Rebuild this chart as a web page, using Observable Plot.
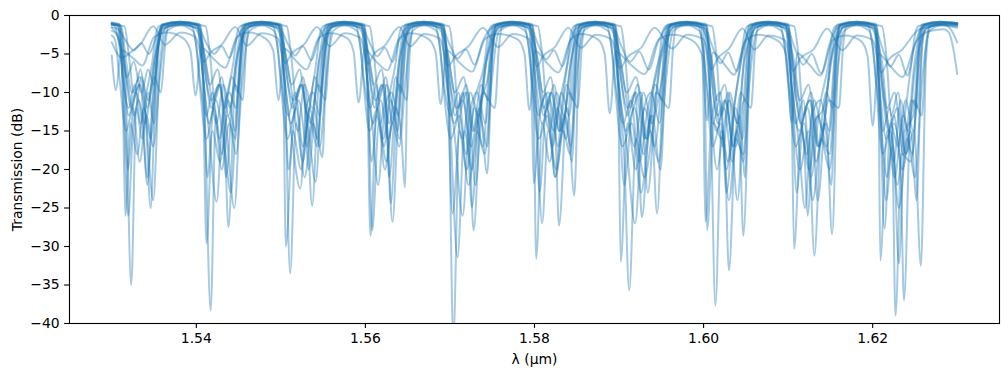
<!DOCTYPE html>
<html><head><meta charset="utf-8">
<script src="https://cdn.jsdelivr.net/npm/d3@7"></script>
<script src="https://cdn.jsdelivr.net/npm/@observablehq/plot@0.6"></script>
<style>body{margin:0;background:#fff}</style>
</head><body><div id="chart"></div>
<script>
// tick labels
const xTicks = [1.54, 1.56, 1.58, 1.60, 1.62];
const yTicks = [-40, -35, -30, -25, -20, -15, -10, -5, 0];

// each series: flat list of [wavelength (nm), transmission (dB)] pairs
const s01 = [1530.0,-1.0, 1530.9,-1.2,
1531.6,-8, 1532.3,-35, 1532.9,-12, 1533.6,-16, 1534.3,-10, 1535.0,-14, 1535.6,-4, 1536.0,-1.3,
1538.1,-0.9, 1540.3,-1.3,
1540.9,-9, 1541.7,-38.3, 1542.3,-13, 1543.0,-18, 1543.8,-11, 1544.6,-15, 1545.2,-4, 1545.6,-1.3,
1547.7,-0.9, 1549.9,-1.3,
1550.5,-10, 1551.1,-33.5, 1551.8,-14, 1552.6,-19, 1553.4,-12, 1554.3,-16, 1555.0,-4, 1555.4,-1.3,
1557.5,-0.9, 1559.7,-1.3,
1560.2,-9, 1560.6,-28.6, 1561.3,-13, 1562.2,-17, 1563.0,-11, 1563.8,-15, 1564.4,-4, 1564.8,-1.3,
1566.9,-0.9, 1569.1,-1.3,
1569.8,-9, 1570.4,-42, 1571.1,-15, 1572.0,-20, 1572.9,-12, 1573.9,-17, 1574.8,-4, 1575.2,-1.3,
1577.4,-0.9, 1579.6,-1.3,
1579.9,-10, 1580.2,-31.6, 1580.9,-14, 1581.8,-19, 1582.7,-12, 1583.7,-16, 1584.6,-4, 1585.0,-1.3,
1587.2,-0.9, 1589.4,-1.3,
1589.9,-10, 1590.2,-32, 1591.0,-14, 1592.0,-20, 1593.0,-12, 1594.2,-17, 1595.4,-4, 1595.8,-1.3,
1598.0,-0.9, 1600.2,-1.3,
1600.8,-11, 1601.4,-37.7, 1602.1,-15, 1602.9,-19, 1603.8,-12, 1604.6,-16, 1605.3,-4, 1605.7,-1.3,
1607.7,-0.9, 1609.9,-1.3,
1610.4,-11, 1610.7,-30.3, 1611.5,-15, 1612.5,-20, 1613.5,-13, 1614.6,-17, 1615.6,-4, 1616.0,-1.3,
1618.1,-0.9, 1620.3,-1.3,
1620.7,-11, 1620.9,-31.8, 1621.7,-15, 1622.6,-21, 1623.6,-13, 1624.7,-18, 1625.5,-4, 1625.9,-1.3,
1628.0,-1.0, 1630.0,-1.1];

const s02 = [1530.0,-1.2, 1530.7,-1.3,
1531.3,-9, 1531.95,-26, 1532.5,-15, 1533.2,-11, 1533.9,-14, 1534.7,-9, 1535.4,-3, 1536.1,-1.2,
1538.1,-0.8, 1540.1,-1.2,
1540.7,-7, 1541.4,-14, 1542.4,-24.2, 1543.1,-13, 1543.9,-10, 1544.7,-12, 1545.4,-3.5, 1545.9,-1.2,
1547.7,-0.8, 1549.7,-1.2,
1550.3,-7, 1551.2,-15, 1552.3,-22.5, 1553.0,-12, 1553.8,-10, 1554.6,-13, 1555.3,-3.5, 1555.8,-1.2,
1557.5,-0.8, 1559.5,-1.2,
1560.1,-7, 1560.8,-14, 1561.5,-22, 1562.3,-12, 1563.1,-10, 1563.9,-13, 1564.6,-3.5, 1565.1,-1.2,
1566.9,-0.8, 1568.9,-1.2,
1569.5,-8, 1570.5,-15, 1571.5,-26, 1572.3,-13, 1573.2,-10, 1574.2,-14, 1575.0,-3.5, 1575.5,-1.2,
1577.4,-0.8, 1579.4,-1.2,
1580.0,-8, 1580.6,-22.9, 1581.4,-12, 1582.3,-15, 1583.2,-10, 1584.1,-13, 1584.9,-3.5, 1585.4,-1.2,
1587.2,-0.8, 1589.2,-1.2,
1589.8,-8, 1590.8,-16, 1591.9,-27, 1592.8,-13, 1593.8,-10, 1594.8,-14, 1595.6,-3.5, 1596.1,-1.2,
1598.0,-0.8, 1599.9,-1.2,
1600.15,-9, 1600.4,-27.9, 1601.2,-14, 1602.1,-16, 1603.0,-11, 1604.0,-14, 1605.0,-3.5, 1605.6,-1.2,
1607.7,-0.8, 1609.7,-1.2,
1610.3,-8, 1611.2,-16, 1612.0,-25, 1612.8,-13, 1613.8,-11, 1614.9,-15, 1615.7,-3.5, 1616.2,-1.2,
1618.1,-0.8, 1620.1,-1.2,
1620.8,-9, 1621.4,-27.7, 1622.1,-14, 1623.0,-17, 1623.9,-11, 1624.8,-15, 1625.6,-3.5, 1626.1,-1.2,
1628.0,-0.8, 1630.0,-1.0];

const s03 = [1530.0,-1.0, 1530.4,-1.4, 1530.9,-4, 1531.4,-9,
1532.0,-12, 1532.7,-9, 1533.4,-14, 1534.1,-10, 1534.8,-6, 1535.2,-2.5, 1535.6,-1.4,
1537.7,-0.9, 1539.5,-1.4, 1540.0,-4, 1540.5,-9,
1541.2,-13, 1541.9,-10, 1542.7,-16, 1543.5,-11, 1544.4,-6, 1544.8,-2.5, 1545.2,-1.4,
1547.3,-0.9, 1549.1,-1.4, 1549.6,-4, 1550.1,-9,
1550.9,-13, 1551.7,-10, 1552.6,-17, 1553.5,-11, 1554.2,-6, 1554.6,-2.5, 1555.0,-1.4,
1557.1,-0.9, 1558.9,-1.4, 1559.4,-4, 1559.9,-9,
1560.6,-12, 1561.3,-9, 1562.1,-16, 1562.9,-10, 1563.6,-6, 1564.0,-2.5, 1564.4,-1.4,
1566.5,-0.9, 1568.3,-1.4, 1568.8,-4, 1569.3,-9,
1570.1,-13, 1571.0,-10, 1571.9,-18, 1572.9,-11, 1574.1,-6, 1574.5,-2.5, 1574.9,-1.4,
1577.0,-0.9, 1578.8,-1.4, 1579.3,-4, 1579.8,-9,
1580.5,-13, 1581.3,-10, 1582.1,-17, 1583.0,-11, 1583.9,-6, 1584.3,-2.5, 1584.7,-1.4,
1586.8,-0.9, 1588.6,-1.4, 1589.1,-4, 1589.6,-9,
1590.5,-14, 1591.4,-11, 1592.4,-19, 1593.4,-12, 1594.7,-6, 1595.1,-2.5, 1595.5,-1.4,
1597.6,-0.9, 1599.4,-1.4, 1599.9,-4, 1600.4,-9,
1601.1,-14, 1601.9,-11, 1602.7,-20, 1603.6,-12, 1604.4,-6, 1604.8,-2.5, 1605.2,-1.4,
1607.3,-0.9, 1609.1,-1.4, 1609.6,-4, 1610.1,-9,
1610.9,-14, 1611.8,-11, 1612.7,-21, 1613.7,-12, 1614.8,-6, 1615.2,-2.5, 1615.6,-1.4,
1617.7,-0.9, 1619.5,-1.4, 1620.0,-4, 1620.5,-9,
1621.2,-15, 1622.0,-12, 1622.9,-22, 1623.8,-13, 1624.6,-6, 1625.0,-2.5, 1625.4,-1.4,
1627.6,-0.9, 1630.0,-1.0];

const s04 = [1530.0,-1.1, 1531.1,-1.3,
1531.7,-6, 1532.4,-10, 1533.3,-8, 1534.0,-13, 1534.6,-25, 1535.2,-8, 1535.7,-2.5, 1536.2,-1.3,
1538.2,-0.9, 1540.5,-1.3,
1541.0,-7, 1541.8,-11, 1542.7,-9, 1543.3,-14, 1543.8,-27.5, 1544.5,-10, 1545.3,-3, 1545.8,-1.3,
1547.8,-0.9, 1550.1,-1.3,
1550.6,-7, 1551.5,-11, 1552.4,-9, 1553.1,-14, 1553.7,-24.7, 1554.4,-10, 1555.2,-3, 1555.7,-1.3,
1557.6,-0.9, 1559.9,-1.3,
1560.4,-7, 1561.2,-11, 1562.0,-9, 1562.6,-15, 1563.0,-24.4, 1563.7,-11, 1564.5,-3, 1565.0,-1.3,
1567.0,-0.9, 1569.3,-1.3,
1569.8,-7, 1570.8,-12, 1571.8,-10, 1572.3,-16, 1572.8,-27.9, 1573.6,-12, 1574.9,-3, 1575.4,-1.3,
1577.5,-0.9, 1579.8,-1.3,
1580.3,-7, 1581.1,-12, 1582.0,-10, 1582.5,-16, 1582.9,-27.3, 1583.7,-12, 1584.8,-3, 1585.3,-1.3,
1587.3,-0.9, 1589.6,-1.3,
1590.1,-7, 1591.0,-12, 1591.9,-10, 1592.3,-17, 1592.7,-26.2, 1593.6,-13, 1595.5,-3, 1596.0,-1.3,
1598.1,-0.9, 1600.4,-1.3,
1600.9,-8, 1601.7,-13, 1602.5,-11, 1603.4,-17, 1604.0,-24, 1604.7,-12, 1605.3,-3, 1605.8,-1.3,
1607.8,-0.9, 1610.1,-1.3,
1610.6,-8, 1611.3,-13, 1611.9,-17, 1612.3,-26, 1613.0,-14, 1614.2,-12, 1615.6,-3, 1616.1,-1.3,
1618.2,-0.9, 1620.5,-1.3,
1621.0,-8, 1621.8,-14, 1622.5,-18, 1623.1,-32.2, 1623.8,-15, 1624.8,-13, 1625.5,-3, 1626.0,-1.3,
1628.1,-0.9, 1630.0,-1.1];

const s05 = [1530.0,-1.0, 1530.8,-1.2,
1531.4,-8, 1531.9,-20, 1532.6,-11, 1533.4,-9, 1534.2,-22, 1534.9,-9, 1535.5,-3, 1535.9,-1.2,
1538.0,-0.8, 1540.2,-1.2,
1540.8,-8, 1541.3,-21, 1542.0,-12, 1542.9,-9, 1543.5,-21, 1544.3,-10, 1545.1,-3, 1545.5,-1.2,
1547.7,-0.8, 1549.8,-1.2,
1550.4,-8, 1550.9,-20, 1551.7,-12, 1552.6,-9, 1553.3,-20, 1554.1,-10, 1554.9,-3, 1555.3,-1.2,
1557.4,-0.8, 1559.6,-1.2,
1560.2,-8, 1560.7,-19, 1561.4,-12, 1562.3,-9, 1562.8,-21, 1563.6,-10, 1564.3,-3, 1564.7,-1.2,
1566.8,-0.8, 1569.0,-1.2,
1569.7,-9, 1570.3,-25.7, 1571.2,-13, 1572.1,-10, 1573.0,-22, 1573.8,-11, 1574.7,-3, 1575.1,-1.2,
1577.3,-0.8, 1579.4,-1.2,
1579.65,-9, 1579.9,-21.8, 1580.7,-12, 1581.7,-10, 1582.4,-21, 1583.3,-11, 1584.5,-3, 1584.9,-1.2,
1587.1,-0.8, 1589.3,-1.2,
1589.9,-9, 1590.6,-22, 1591.5,-13, 1592.6,-10, 1593.4,-23, 1594.3,-11, 1595.3,-3, 1595.7,-1.2,
1597.9,-0.8, 1599.7,-1.2,
1599.95,-9, 1600.2,-26.8, 1601.0,-13, 1602.0,-10, 1602.7,-23, 1603.6,-12, 1605.0,-3, 1605.4,-1.2,
1607.6,-0.8, 1609.8,-1.2,
1610.4,-9, 1611.0,-23, 1611.8,-13, 1612.7,-11, 1613.5,-24, 1614.4,-12, 1615.4,-3, 1615.8,-1.2,
1618.0,-0.8, 1620.2,-1.2,
1620.8,-10, 1621.6,-24, 1622.5,-14, 1623.3,-20, 1623.7,-37, 1624.4,-14, 1625.4,-3, 1625.8,-1.2,
1628.0,-0.8, 1630.0,-1.0];

const s06 = [1530.0,-1.6, 1530.7,-2.6, 1531.3,-5,
1531.9,-9, 1532.7,-13, 1533.5,-8, 1534.3,-11, 1535.0,-6, 1535.7,-3, 1536.4,-1.6,
1538.2,-1.1, 1539.8,-1.6, 1540.5,-3,
1541.1,-6, 1541.7,-10, 1542.4,-14, 1543.2,-9, 1544.0,-12, 1544.7,-6, 1545.4,-3, 1546.1,-1.6,
1547.8,-1.1, 1549.4,-1.6, 1550.1,-3,
1550.7,-6, 1551.3,-10, 1552.0,-15, 1552.8,-9, 1553.7,-12, 1554.5,-6, 1555.2,-3, 1555.9,-1.6,
1557.6,-1.1, 1559.2,-1.6, 1559.9,-3,
1560.5,-6, 1561.1,-10, 1561.8,-14, 1562.5,-9, 1563.4,-12, 1564.0,-6, 1564.7,-3, 1565.4,-1.6,
1567.0,-1.1, 1568.6,-1.6, 1569.3,-3,
1569.9,-6, 1570.6,-11, 1571.5,-16, 1572.4,-10, 1573.4,-13, 1574.3,-6, 1575.1,-3, 1575.8,-1.6,
1577.5,-1.1, 1579.1,-1.6, 1579.8,-3,
1580.4,-6, 1581.0,-11, 1581.8,-15, 1582.6,-10, 1583.5,-13, 1584.3,-6, 1585.0,-3, 1585.7,-1.6,
1587.3,-1.1, 1588.9,-1.6, 1589.6,-3,
1590.2,-6, 1590.9,-11, 1591.8,-17, 1592.9,-10, 1593.9,-14, 1594.9,-6, 1595.7,-3, 1596.4,-1.6,
1598.1,-1.1, 1599.7,-1.6, 1600.4,-3,
1601.0,-6, 1601.6,-12, 1602.3,-17, 1603.1,-10, 1604.0,-14, 1604.8,-6, 1605.5,-3, 1606.2,-1.6,
1607.8,-1.1, 1609.4,-1.6, 1610.1,-3,
1610.7,-6, 1611.4,-12, 1612.2,-18, 1613.1,-11, 1614.1,-15, 1615.0,-6, 1615.8,-3, 1616.5,-1.6,
1618.2,-1.1, 1619.8,-1.6, 1620.5,-3,
1621.1,-6, 1621.7,-13, 1622.5,-19, 1623.3,-11, 1624.2,-15, 1625.0,-7, 1625.8,-3, 1626.5,-1.6,
1628.1,-1.1, 1630.0,-1.3];

const s07 = [1530.0,-0.9, 1530.9,-1.1,
1531.3,-10, 1531.6,-26, 1532.2,-14, 1533.0,-18, 1533.8,-12, 1534.6,-16, 1535.4,-5, 1535.9,-1.2,
1538.1,-0.8, 1540.4,-1.1,
1540.8,-10, 1541.2,-29.6, 1541.9,-15, 1542.8,-19, 1543.7,-13, 1544.6,-16, 1545.3,-5, 1545.7,-1.2,
1547.7,-0.8, 1550.0,-1.1,
1550.3,-10, 1550.6,-30, 1551.4,-15, 1552.4,-20, 1553.3,-13, 1554.3,-17, 1555.1,-5, 1555.6,-1.2,
1557.5,-0.8, 1559.8,-1.1,
1560.3,-10, 1560.8,-27.9, 1561.6,-14, 1562.5,-19, 1563.3,-12, 1564.0,-16, 1564.7,-5, 1565.2,-1.2,
1566.9,-0.8, 1569.2,-1.1,
1569.9,-11, 1570.9,-31.4, 1571.7,-15, 1572.6,-20, 1573.5,-13, 1574.4,-17, 1575.0,-5, 1575.5,-1.2,
1577.4,-0.8, 1579.7,-1.1,
1580.2,-11, 1580.9,-27, 1581.6,-15, 1582.6,-20, 1583.5,-13, 1584.3,-17, 1584.9,-5, 1585.4,-1.2,
1587.2,-0.8, 1589.5,-1.1,
1590.1,-11, 1590.6,-18, 1591.2,-35.7, 1592.0,-16, 1593.0,-21, 1594.1,-14, 1595.6,-5, 1596.1,-1.2,
1598.0,-0.8, 1600.3,-1.1,
1600.8,-11, 1601.6,-20, 1602.4,-15, 1603.0,-33.1, 1603.8,-16, 1604.7,-18, 1605.4,-5, 1605.9,-1.2,
1607.7,-0.8, 1610.0,-1.1,
1610.5,-11, 1611.4,-20, 1612.4,-15, 1613.1,-31.2, 1613.9,-16, 1614.9,-18, 1615.7,-5, 1616.2,-1.2,
1618.1,-0.8, 1620.4,-1.1,
1620.9,-12, 1621.7,-21, 1622.3,-17, 1622.7,-39, 1623.4,-18, 1624.5,-19, 1625.6,-5, 1626.1,-1.2,
1628.0,-0.8, 1630.0,-1.0];

const s08 = [1530.0,-2.0, 1530.5,-2.3,
1531.0,-4, 1531.8,-8, 1532.6,-6, 1533.5,-10, 1534.3,-7, 1535.0,-9, 1535.6,-3, 1536.2,-1.6,
1538.3,-1.2, 1540.2,-1.6,
1540.8,-4, 1541.6,-9, 1542.5,-7, 1543.4,-12, 1544.2,-8, 1544.9,-10, 1545.5,-3, 1546.0,-1.6,
1547.9,-1.2, 1549.8,-1.6,
1550.4,-4, 1551.3,-9, 1552.2,-7, 1553.2,-13, 1554.0,-8, 1554.7,-10, 1555.4,-3, 1555.9,-1.6,
1557.7,-1.2, 1559.6,-1.6,
1560.2,-4, 1561.0,-9, 1561.9,-7, 1562.8,-14, 1563.6,-8, 1564.2,-10, 1564.8,-3, 1565.3,-1.6,
1567.1,-1.2, 1569.0,-1.6,
1569.6,-4, 1570.6,-10, 1571.6,-8, 1572.7,-15, 1573.7,-9, 1574.5,-11, 1575.2,-3, 1575.7,-1.6,
1577.6,-1.2, 1579.5,-1.6,
1580.1,-4, 1581.0,-10, 1581.9,-8, 1582.9,-15, 1583.8,-9, 1584.5,-11, 1585.1,-3, 1585.6,-1.6,
1587.4,-1.2, 1589.3,-1.6,
1589.9,-4, 1590.9,-10, 1592.0,-8, 1593.2,-16, 1594.3,-9, 1595.1,-11, 1595.8,-3, 1596.3,-1.6,
1598.2,-1.2, 1600.1,-1.6,
1600.7,-4, 1601.6,-11, 1602.5,-9, 1603.5,-17, 1604.4,-10, 1605.0,-11, 1605.6,-3, 1606.1,-1.6,
1607.9,-1.2, 1609.8,-1.6,
1610.4,-5, 1611.4,-11, 1612.4,-9, 1613.5,-17, 1614.5,-10, 1615.3,-12, 1615.9,-3, 1616.4,-1.6,
1618.3,-1.2, 1620.2,-1.6,
1620.8,-5, 1621.7,-12, 1622.6,-10, 1623.6,-18, 1624.6,-11, 1625.3,-12, 1625.9,-3, 1626.4,-1.6,
1628.2,-1.2, 1630.0,-1.3];

const s09 = [1530.0,-1.1, 1530.7,-1.3,
1531.3,-7, 1532.0,-13, 1532.8,-10, 1533.6,-14, 1534.2,-21, 1534.9,-11, 1535.6,-3, 1536.1,-1.3,
1538.1,-0.9, 1540.1,-1.3,
1540.7,-7, 1541.5,-14, 1542.3,-11, 1543.2,-16, 1544.1,-23, 1544.8,-11, 1545.5,-3, 1546.0,-1.3,
1547.8,-0.9, 1549.7,-1.3,
1550.3,-7, 1551.2,-14, 1552.1,-11, 1553.1,-17, 1553.9,-12, 1554.9,-18.4, 1555.5,-3, 1556.0,-1.3,
1557.6,-0.9, 1559.5,-1.3,
1560.1,-7, 1560.9,-14, 1561.8,-11, 1562.7,-16, 1563.6,-12, 1564.2,-15, 1564.7,-22.3, 1565.0,-5, 1565.4,-1.3,
1567.0,-0.9, 1568.9,-1.3,
1569.5,-7, 1570.5,-14, 1571.5,-11, 1572.5,-17, 1573.5,-12, 1574.4,-20.5, 1575.0,-5, 1575.5,-1.3,
1577.5,-0.9, 1579.4,-1.3,
1580.0,-7, 1580.9,-14, 1581.8,-11, 1582.8,-17, 1583.7,-13, 1584.4,-19, 1585.0,-5, 1585.5,-1.3,
1587.3,-0.9, 1589.2,-1.3,
1589.8,-7, 1590.8,-15, 1591.8,-12, 1592.9,-18, 1593.9,-13, 1594.9,-20, 1595.6,-5, 1596.1,-1.3,
1598.1,-0.9, 1600.0,-1.3,
1600.6,-8, 1601.5,-15, 1602.4,-12, 1603.4,-19, 1604.3,-13, 1604.9,-21, 1605.4,-5, 1605.9,-1.3,
1607.8,-0.9, 1609.7,-1.3,
1610.3,-8, 1611.3,-15, 1612.3,-12, 1613.3,-19, 1614.3,-14, 1615.1,-22, 1615.7,-5, 1616.2,-1.3,
1618.2,-0.9, 1620.1,-1.3,
1620.7,-8, 1621.6,-16, 1622.5,-13, 1623.5,-20, 1624.5,-15, 1625.2,-24, 1625.8,-5, 1626.3,-1.3,
1628.1,-0.9, 1630.0,-1.1];

const s10 = [1530.0,-2.6, 1530.4,-3.2, 1530.9,-8,
1531.7,-15, 1532.5,-12, 1533.3,-19, 1534.1,-13, 1534.9,-17, 1535.6,-9, 1536.1,-4, 1536.5,-2,
1538.1,-1.3, 1539.6,-2, 1540.0,-4, 1540.4,-9,
1541.2,-16, 1542.1,-12, 1543.0,-20, 1543.9,-14, 1544.7,-18, 1545.4,-9, 1545.9,-4, 1546.3,-2,
1547.7,-1.3, 1549.2,-2, 1549.6,-4, 1550.0,-9,
1550.8,-16, 1551.8,-12, 1552.8,-21, 1553.8,-14, 1554.6,-17, 1555.3,-9, 1555.8,-4, 1556.2,-2,
1557.5,-1.3, 1559.0,-2, 1559.4,-4, 1559.8,-9,
1560.5,-15, 1561.4,-12, 1562.3,-20, 1563.2,-14, 1564.0,-17, 1564.7,-9, 1565.2,-4, 1565.6,-2,
1566.9,-1.3, 1568.4,-2, 1568.8,-4, 1569.2,-9,
1570.1,-16, 1571.1,-13, 1572.2,-22, 1573.2,-15, 1574.1,-18, 1574.9,-9, 1575.4,-4, 1575.8,-2,
1577.4,-1.3, 1578.9,-2, 1579.3,-4, 1579.7,-9,
1580.5,-16, 1581.5,-13, 1582.5,-21, 1583.4,-15, 1584.2,-18, 1584.9,-9, 1585.4,-4, 1585.8,-2,
1587.2,-1.3, 1588.7,-2, 1589.1,-4, 1589.5,-9,
1590.4,-17, 1591.5,-14, 1592.6,-23, 1593.7,-15, 1594.7,-19, 1595.5,-9, 1596.0,-4, 1596.4,-2,
1598.0,-1.3, 1599.5,-2, 1599.9,-4, 1600.3,-9,
1601.1,-17, 1602.0,-14, 1603.0,-24, 1603.9,-15, 1604.7,-19, 1605.4,-9, 1605.9,-4, 1606.3,-2,
1607.7,-1.3, 1609.2,-2, 1609.6,-4, 1610.0,-9,
1610.9,-17, 1611.9,-14, 1612.9,-24, 1613.9,-16, 1614.9,-20, 1615.7,-9, 1616.2,-4, 1616.6,-2,
1618.1,-1.3, 1619.6,-2, 1620.0,-4, 1620.4,-9,
1621.2,-18, 1622.1,-15, 1623.1,-25, 1624.1,-16, 1625.0,-21, 1625.8,-9, 1626.3,-4, 1626.7,-2,
1628.1,-1.3, 1630.0,-1.6];

const s11 = [1530.0,-1.2, 1531.0,-1.4,
1531.5,-6, 1532.3,-12, 1533.2,-9, 1534.0,-13, 1534.9,-24, 1535.6,-8, 1536.1,-2.5, 1536.5,-1.4,
1538.3,-1.0, 1540.4,-1.4,
1540.9,-6, 1541.8,-12, 1542.6,-9, 1543.4,-13, 1544.5,-25, 1545.3,-8, 1545.8,-2.5, 1546.2,-1.4,
1547.9,-1.0, 1550.0,-1.4,
1550.5,-6, 1551.4,-12, 1552.3,-9, 1553.2,-14, 1554.1,-21.6, 1554.9,-8, 1555.6,-2.5, 1556.0,-1.4,
1557.7,-1.0, 1559.8,-1.4,
1560.3,-6, 1561.1,-12, 1561.9,-9, 1562.6,-15, 1563.2,-26.8, 1563.9,-12, 1564.8,-2.5, 1565.2,-1.4,
1567.1,-1.0, 1569.2,-1.4,
1569.7,-6, 1570.6,-13, 1571.5,-10, 1572.1,-16, 1572.6,-24.9, 1573.4,-13, 1574.5,-8, 1575.3,-2.5, 1575.7,-1.4,
1577.6,-1.0, 1579.7,-1.4,
1580.2,-6, 1581.1,-13, 1582.0,-10, 1583.0,-15, 1583.9,-12, 1584.7,-23.4, 1585.3,-4, 1585.7,-1.4,
1587.4,-1.0, 1589.5,-1.4,
1590.0,-6, 1591.0,-13, 1592.0,-10, 1593.0,-16, 1593.8,-13, 1594.5,-25.7, 1595.3,-6, 1596.0,-1.4,
1598.2,-1.0, 1600.3,-1.4,
1600.8,-6, 1601.7,-14, 1602.6,-11, 1603.5,-17, 1604.2,-14, 1604.7,-28.6, 1605.5,-6, 1606.1,-1.4,
1607.9,-1.0, 1610.0,-1.4,
1610.5,-6, 1611.5,-14, 1612.5,-11, 1613.6,-17, 1614.5,-14, 1615.2,-28.4, 1615.9,-6, 1616.5,-1.4,
1618.3,-1.0, 1620.4,-1.4,
1620.9,-7, 1621.9,-15, 1622.9,-12, 1623.9,-18, 1624.9,-15, 1625.7,-32.5, 1626.3,-6, 1626.8,-1.4,
1628.3,-1.0, 1630.0,-1.1];

const s12 = [1530.0,-1.5, 1530.8,-1.8,
1531.6,-3.2, 1532.6,-4.5, 1533.5,-3.6, 1534.4,-5, 1535.2,-3, 1535.9,-1.6,
1538.0,-1.2, 1540.3,-1.7,
1541.1,-3.4, 1542.1,-5, 1543.0,-4, 1543.9,-5.5, 1544.8,-3, 1545.6,-1.6,
1547.7,-1.2, 1549.9,-1.7,
1550.7,-3.4, 1551.7,-5.2, 1552.6,-4, 1553.6,-5.8, 1554.5,-3, 1555.3,-1.6,
1557.5,-1.2, 1559.7,-1.7,
1560.5,-3.5, 1561.4,-5.3, 1562.3,-4.2, 1563.2,-6, 1564.0,-3.2, 1564.8,-1.6,
1566.9,-1.2, 1569.1,-1.7,
1569.9,-3.6, 1570.9,-5.6, 1571.9,-4.4, 1572.9,-6.4, 1573.9,-3.3, 1575.0,-1.6,
1577.4,-1.2, 1579.6,-1.7,
1580.4,-3.7, 1581.4,-5.7, 1582.3,-4.5, 1583.3,-6.6, 1584.2,-3.4, 1585.0,-1.6,
1587.2,-1.2, 1589.4,-1.7,
1590.2,-3.8, 1591.3,-6, 1592.4,-4.7, 1593.5,-7, 1594.6,-3.5, 1595.6,-1.6,
1598.0,-1.2, 1600.2,-1.7,
1601.0,-3.9, 1602.0,-6.2, 1602.9,-4.8, 1603.9,-7.2, 1604.8,-3.6, 1605.6,-1.6,
1607.7,-1.2, 1609.9,-1.7,
1610.7,-4, 1611.8,-6.4, 1612.8,-5, 1613.9,-7.5, 1614.9,-3.7, 1615.8,-1.6,
1618.1,-1.2, 1620.3,-1.7,
1621.1,-4.1, 1622.1,-6.6, 1623.1,-5.1, 1624.1,-7.8, 1625.0,-3.8, 1625.8,-1.6,
1628.0,-1.2, 1630.0,-1.4];

const s13 = [1530.0,-3.5, 1531.2,-5.5,
1532.2,-4.8, 1533.4,-3.7, 1534.9,-1.4, 1536.3,-3.8,
1538.1,-2.2, 1539.9,-2.8, 1540.9,-6,
1541.7,-4.8, 1543.0,-3.8, 1544.6,-1.5, 1546.0,-3.9,
1547.7,-2.3, 1549.6,-2.9, 1550.5,-6.2,
1551.3,-4.9, 1552.7,-3.8, 1554.3,-1.5, 1555.8,-4,
1557.5,-2.3, 1559.4,-2.9, 1560.3,-6.3,
1561.0,-5, 1562.3,-3.9, 1564.0,-1.5, 1565.3,-4,
1566.9,-2.4, 1568.8,-3, 1569.8,-6.5,
1570.7,-5.2, 1572.2,-4, 1573.9,-1.6, 1575.7,-4.1,
1577.4,-2.4, 1579.3,-3, 1580.3,-6.6,
1581.0,-5.3, 1582.4,-4.1, 1584.0,-1.6, 1585.5,-4.2,
1587.2,-2.5, 1589.1,-3.1, 1590.1,-6.8,
1591.0,-5.4, 1592.6,-4.2, 1594.2,-1.6, 1596.3,-4.3,
1598.0,-2.5, 1600.0,-3.1, 1600.9,-7,
1601.7,-5.5, 1603.0,-4.3, 1604.6,-1.7, 1606.0,-4.4,
1607.7,-2.6, 1609.6,-3.2, 1610.6,-7.2,
1611.4,-5.6, 1613.0,-4.4, 1614.6,-1.7, 1616.4,-4.5,
1618.1,-2.6, 1620.0,-3.2, 1621.0,-7.4,
1621.9,-5.7, 1623.4,-4.5, 1625.5,-1.8,
1627.0,-1.4, 1628.5,-1.2, 1629.3,-1.9, 1630.0,-3.5];

const s14 = [1530.0,-5.2, 1530.5,-9.7, 1531.1,-4.5,
1532.5,-5.5, 1533.6,-6.5, 1535.0,-2.8, 1536.5,-2.2, 1538.4,-2.9, 1539.3,-4.5, 1539.9,-10.4, 1540.6,-4.2,
1542.2,-5.8, 1543.4,-6.8, 1544.8,-2.8, 1546.2,-2.2, 1548.2,-3.0, 1549.1,-4.6, 1549.7,-11, 1550.4,-4.3,
1551.8,-5.9, 1553.0,-7, 1554.5,-2.9, 1555.9,-2.3, 1557.9,-3.0, 1558.6,-4.7, 1559.2,-11.3, 1559.9,-4.4,
1561.3,-6, 1562.6,-7.1, 1564.0,-3.0, 1565.4,-2.3, 1567.5,-3.1, 1568.3,-4.8, 1568.9,-11.5, 1569.6,-4.5,
1571.1,-6.1, 1572.6,-7.3, 1574.2,-3.0, 1575.8,-2.4, 1578.0,-3.1, 1578.8,-4.9, 1579.4,-12.3, 1580.1,-4.6,
1581.5,-6.2, 1582.8,-7.4, 1584.3,-3.1, 1585.6,-2.4, 1587.6,-3.2, 1588.3,-5, 1588.9,-12.7, 1589.6,-4.7,
1591.3,-6.3, 1593.0,-7.6, 1594.7,-3.1, 1596.3,-2.5, 1598.6,-3.2, 1599.8,-5.1, 1600.4,-13.6, 1601.1,-4.8,
1602.5,-6.4, 1603.6,-7.7, 1605.0,-3.2, 1606.5,-2.5, 1608.8,-3.3, 1609.8,-5.2, 1610.4,-13.8, 1611.1,-4.9,
1612.6,-6.5, 1613.8,-7.8, 1615.3,-3.2, 1616.8,-2.6, 1618.6,-3.3, 1619.4,-5.3, 1620.0,-14.3, 1620.7,-5,
1622.1,-6.6, 1623.5,-8, 1625.2,-3.3, 1626.8,-2.0, 1628.4,-1.8, 1629.0,-2.2, 1629.5,-4.1, 1630.0,-7.6];

const s15 = [1530.0,-1.2, 1531.5,-1.4, 1532.0,-5,
1532.6,-10, 1533.4,-7, 1534.2,-12, 1535.0,-8, 1535.8,-10, 1536.3,-4, 1536.7,-1.4,
1538.9,-1.0, 1541.1,-1.4, 1541.6,-5,
1542.2,-11, 1543.0,-8, 1543.8,-13, 1544.6,-9, 1545.5,-11, 1545.9,-4, 1546.3,-1.4,
1548.5,-1.0, 1550.7,-1.4, 1551.2,-5,
1551.8,-11, 1552.6,-8, 1553.5,-14, 1554.4,-9, 1555.3,-11, 1555.7,-4, 1556.1,-1.4,
1558.3,-1.0, 1560.5,-1.4, 1561.0,-5,
1561.6,-11, 1562.4,-8, 1563.2,-14, 1564.0,-9, 1564.9,-11, 1565.3,-4, 1565.7,-1.4,
1567.7,-1.0, 1569.9,-1.4, 1570.4,-5,
1571.0,-12, 1571.9,-9, 1572.9,-15, 1573.9,-10, 1575.3,-12, 1575.8,-4, 1576.2,-1.4,
1578.2,-1.0, 1580.4,-1.4, 1580.9,-5,
1581.5,-12, 1582.3,-9, 1583.2,-15, 1584.1,-10, 1585.1,-12, 1585.6,-4, 1586.0,-1.4,
1588.0,-1.0, 1590.2,-1.4, 1590.7,-5,
1591.3,-12, 1592.2,-9, 1593.3,-16, 1594.4,-10, 1595.9,-12, 1596.4,-4, 1596.8,-1.4,
1598.8,-1.0, 1601.0,-1.4, 1601.5,-5,
1602.1,-13, 1602.9,-10, 1603.8,-17, 1604.8,-11, 1605.6,-12, 1606.1,-4, 1606.5,-1.4,
1608.5,-1.0, 1610.7,-1.4, 1611.2,-5,
1611.8,-13, 1612.7,-10, 1613.7,-17, 1614.8,-11, 1616.0,-12, 1616.5,-4, 1616.9,-1.4,
1618.9,-1.0, 1621.1,-1.4, 1621.6,-5,
1622.2,-13, 1623.0,-10, 1623.9,-18, 1624.9,-11, 1625.8,-13, 1626.3,-4, 1626.7,-1.4,
1628.7,-1.0, 1630.0,-1.1];

const seriesList = [s01, s02, s03, s04, s05, s06, s07, s08, s09, s10, s11, s12, s13, s14, s15];

const rows = [];
seriesList.forEach((arr, i) => {
  for (let k = 0; k < arr.length; k += 2) rows.push({id: i, lam: arr[k] / 1000, db: arr[k + 1]});
});

const chart = Plot.plot({
  width: 1008, height: 376,
  marginLeft: 69, marginRight: 9, marginTop: 15, marginBottom: 53,
  style: {fontFamily: "'DejaVu Sans', sans-serif", fontSize: "13.9px", background: "#fff", color: "#000"},
  x: {domain: [1.525, 1.635]},
  y: {domain: [-40, 0]},
  marks: [
    Plot.line(rows, {x: "lam", y: "db", z: "id", stroke: "#1f77b4", strokeOpacity: 0.4, strokeWidth: 2, curve: "monotone-x", clip: true}),
    Plot.frame({stroke: "#000", strokeWidth: 1.1}),
    Plot.axisX({ticks: xTicks, tickFormat: d3.format(".2f"), tickSize: 4.9, tickPadding: 4.9, strokeWidth: 1.1,
      label: "λ (µm)", labelAnchor: "center", labelArrow: "none", labelOffset: 40}),
    Plot.axisY({ticks: yTicks, tickFormat: d3.format("d"), tickSize: 4.9, tickPadding: 4.9, strokeWidth: 1.1,
      label: "Transmission (dB)", labelAnchor: "center", labelArrow: "none", labelOffset: 57})
  ]
});
document.getElementById("chart").appendChild(chart);
</script>
</body></html>
